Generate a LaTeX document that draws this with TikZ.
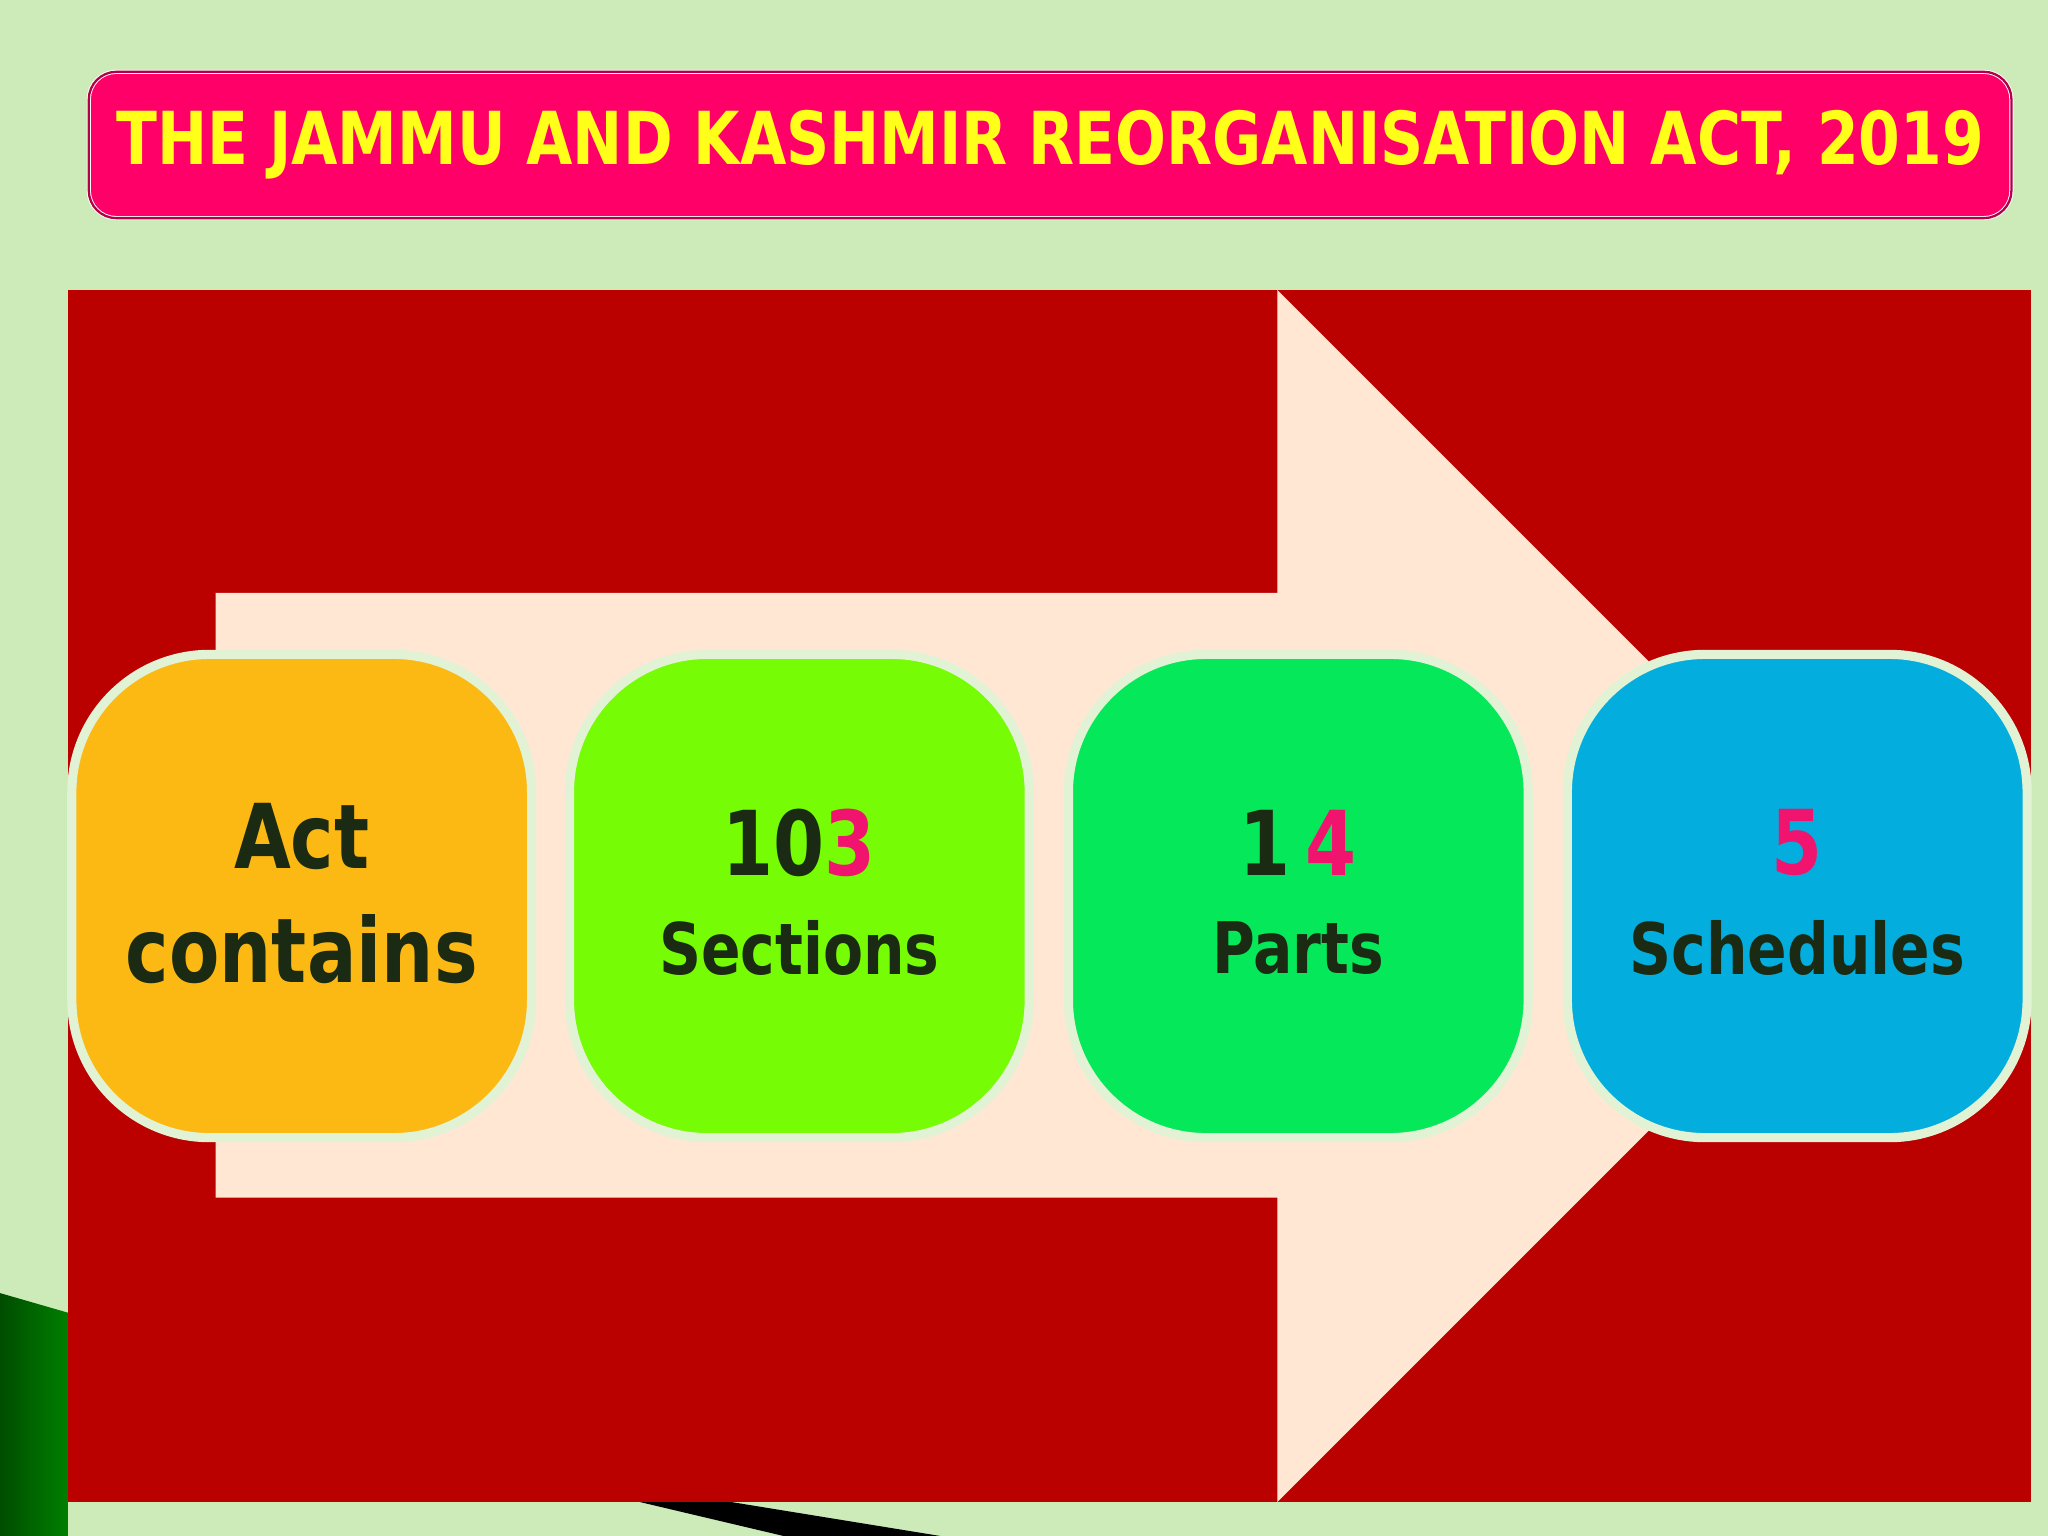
\documentclass[tikz,border=0pt]{standalone}
\usepackage{fontspec}
\setmainfont{DejaVu Sans}[FakeStretch=0.82]
\usepackage{graphicx}
\definecolor{bg}{HTML}{CDEBB8}
\definecolor{tit}{HTML}{FF0068}
\definecolor{ttxt}{HTML}{FFFF1A}
\definecolor{red}{HTML}{BB0000}
\definecolor{peach}{HTML}{FFE7D4}
\definecolor{pk}{HTML}{F0146E}
\definecolor{dk}{HTML}{1B2A12}
\definecolor{c1}{HTML}{FDB913}
\definecolor{c2}{HTML}{76FC05}
\definecolor{c3}{HTML}{05E85A}
\definecolor{c4}{HTML}{03AEDE}
\begin{document}
\begin{tikzpicture}[x=0.02cm,y=-0.02cm,
  box/.style={rounded corners=60, fill=#1, draw=bg!60!white, line width=4},
  big/.style={font=\bfseries\fontsize{39}{50}\selectfont, text=dk, align=center},
  num/.style={font=\bfseries\fontsize{39}{40}\selectfont, text=dk},
  lab/.style={font=\bfseries\fontsize{31}{32}\selectfont, text=dk}]
\useasboundingbox (0,0) rectangle (1568,1176);
\fill[bg] (0,0) rectangle (1568,1176);
% decor bottom left
\shade[left color=green!30!black, right color=green!50!black] (0,990) -- (52,1005) -- (52,1176) -- (0,1176) -- cycle;
\fill[black] (490,1150) -- (560,1150) -- (720,1176) -- (600,1176) -- cycle;
% title
\node[draw=white, double=tit!70!black, double distance=1pt, fill=tit, rounded corners=12,
  minimum width=1472*0.02cm, minimum height=112*0.02cm] (title) at (804,111)
  {\resizebox{28.6cm}{!}{\color{ttxt}\bfseries THE JAMMU AND KASHMIR REORGANISATION ACT, 2019}};
% red panel and arrow
\fill[red] (52,222) rectangle (1555,1150);
\fill[peach] (165,454) -- (978,454) -- (978,222) -- (1442,686) -- (978,1150) -- (978,917) -- (165,917) -- cycle;
% boxes
\node[box=c1, minimum width=352*0.02cm, minimum height=370*0.02cm] (b1) at (231,686) {};
\node[box=c2, minimum width=352*0.02cm, minimum height=370*0.02cm] (b2) at (612,686) {};
\node[box=c3, minimum width=352*0.02cm, minimum height=370*0.02cm] (b3) at (994,686) {};
\node[box=c4, minimum width=352*0.02cm, minimum height=370*0.02cm] (b4) at (1376,686) {};
\node[big] (t1) at (231,684) {Act\\contains};
\node[num] (n2) at (612,645) {10\textcolor{pk}{3}};
\node[lab] (l2) at (612,726) {Sections};
\node[num] (n3) at (994,645) {1\,\textcolor{pk}{4}};
\node[lab] (l3) at (994,726) {Parts};
\node[num] (n4) at (1376,645) {\textcolor{pk}{5}};
\node[lab] (l4) at (1376,726) {Schedules};
\end{tikzpicture}
\end{document}
